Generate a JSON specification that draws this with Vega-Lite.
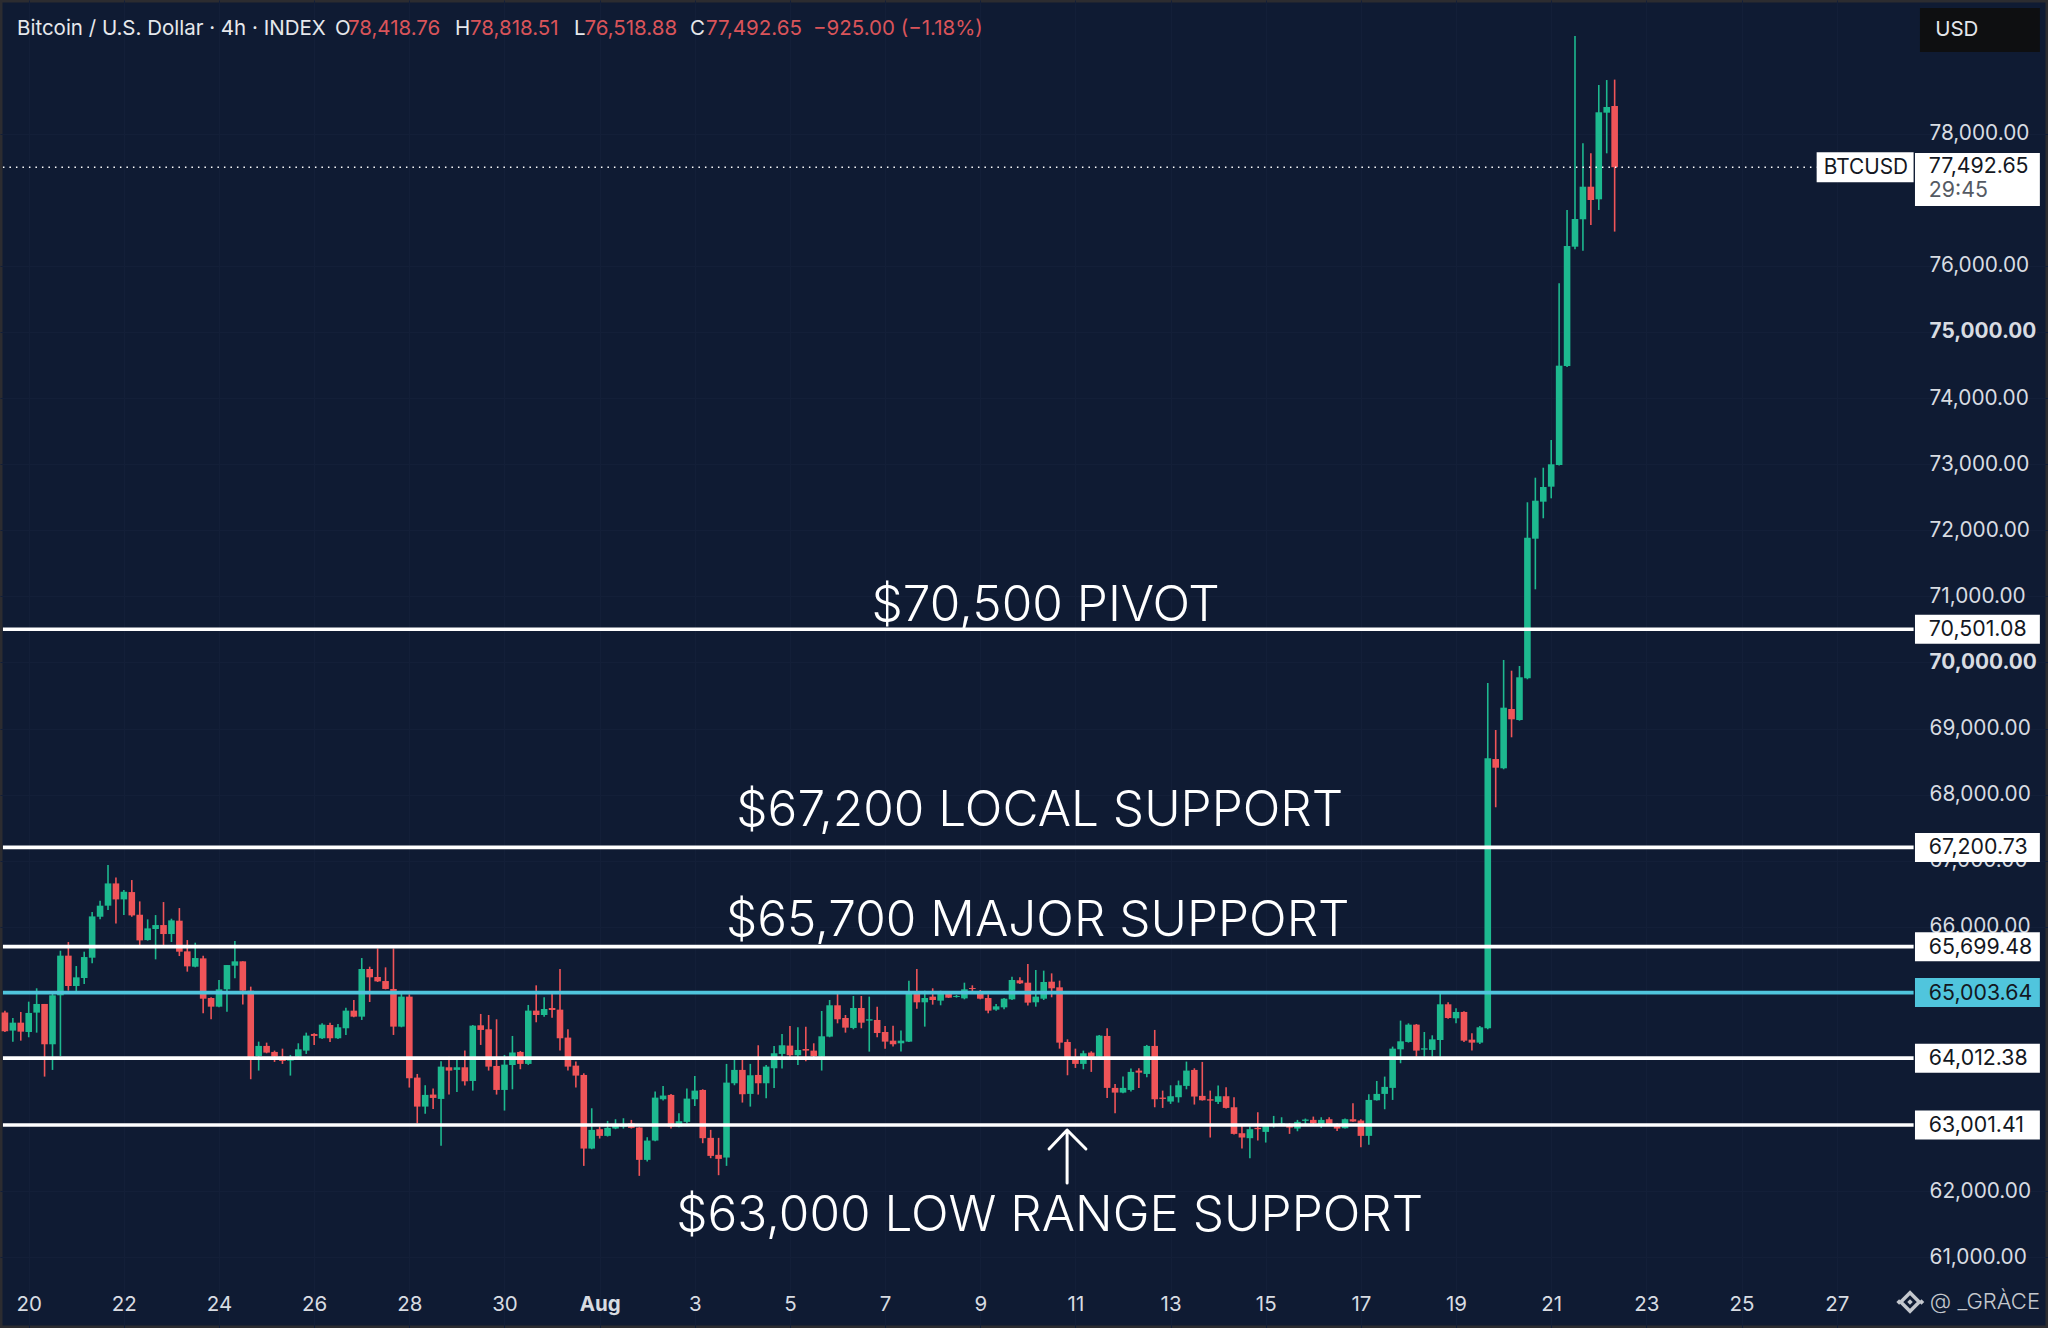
{
  "$schema": "https://vega.github.io/schema/vega-lite/v6.json",
  "width": 2048,
  "height": 1328,
  "padding": 0,
  "autosize": {"type": "none"},
  "background": "#0f1b33",
  "config": {
    "font": "Inter",
    "view": {"stroke": "#2c2c30", "strokeWidth": 5},
    "axis": {"title": null, "domain": false, "ticks": false, "labelOverlap": false, "labelBound": false, "labelFlush": false}
  },
  "datasets": {
    "candles": [
      {"t":"2024-07-19T12:00","o":64701,"h":64731,"l":64408,"c":64418},
      {"t":"2024-07-19T16:00","o":64429,"h":64620,"l":64262,"c":64549},
      {"t":"2024-07-19T20:00","o":64549,"h":64711,"l":64277,"c":64413},
      {"t":"2024-07-20T00:00","o":64408,"h":64867,"l":64328,"c":64696},
      {"t":"2024-07-20T04:00","o":64701,"h":65069,"l":64398,"c":64832},
      {"t":"2024-07-20T08:00","o":64832,"h":64832,"l":63733,"c":64222},
      {"t":"2024-07-20T12:00","o":64222,"h":64983,"l":63834,"c":64963},
      {"t":"2024-07-20T16:00","o":64963,"h":65638,"l":64045,"c":65563},
      {"t":"2024-07-20T20:00","o":65563,"h":65769,"l":65033,"c":65104},
      {"t":"2024-07-21T00:00","o":65104,"h":65406,"l":65018,"c":65235},
      {"t":"2024-07-21T04:00","o":65225,"h":65623,"l":65134,"c":65542},
      {"t":"2024-07-21T08:00","o":65532,"h":66223,"l":65447,"c":66157},
      {"t":"2024-07-21T12:00","o":66152,"h":66394,"l":66112,"c":66319},
      {"t":"2024-07-21T16:00","o":66319,"h":66933,"l":66253,"c":66656},
      {"t":"2024-07-21T20:00","o":66656,"h":66747,"l":66051,"c":66414},
      {"t":"2024-07-22T00:00","o":66414,"h":66555,"l":66177,"c":66530},
      {"t":"2024-07-22T04:00","o":66525,"h":66707,"l":66152,"c":66172},
      {"t":"2024-07-22T08:00","o":66182,"h":66384,"l":65709,"c":65794},
      {"t":"2024-07-22T12:00","o":65799,"h":66112,"l":65789,"c":65976},
      {"t":"2024-07-22T16:00","o":65966,"h":66177,"l":65507,"c":66026},
      {"t":"2024-07-22T20:00","o":66026,"h":66374,"l":65709,"c":65890},
      {"t":"2024-07-23T00:00","o":65890,"h":66122,"l":65769,"c":66097},
      {"t":"2024-07-23T04:00","o":66092,"h":66283,"l":65557,"c":65623},
      {"t":"2024-07-23T08:00","o":65628,"h":65799,"l":65321,"c":65401},
      {"t":"2024-07-23T12:00","o":65396,"h":65759,"l":65386,"c":65527},
      {"t":"2024-07-23T16:00","o":65522,"h":65563,"l":64691,"c":64912},
      {"t":"2024-07-23T20:00","o":64922,"h":64933,"l":64600,"c":64791},
      {"t":"2024-07-24T00:00","o":64791,"h":65195,"l":64781,"c":65053},
      {"t":"2024-07-24T04:00","o":65053,"h":65421,"l":64716,"c":65421},
      {"t":"2024-07-24T08:00","o":65411,"h":65784,"l":65220,"c":65477},
      {"t":"2024-07-24T12:00","o":65477,"h":65477,"l":64822,"c":65033},
      {"t":"2024-07-24T16:00","o":65033,"h":65094,"l":63693,"c":64000},
      {"t":"2024-07-24T20:00","o":64045,"h":64262,"l":63824,"c":64197},
      {"t":"2024-07-25T00:00","o":64197,"h":64247,"l":64086,"c":64096},
      {"t":"2024-07-25T04:00","o":64106,"h":64126,"l":63955,"c":64035},
      {"t":"2024-07-25T08:00","o":64035,"h":64156,"l":63925,"c":63970},
      {"t":"2024-07-25T12:00","o":63975,"h":64061,"l":63748,"c":64025},
      {"t":"2024-07-25T16:00","o":64035,"h":64237,"l":64025,"c":64146},
      {"t":"2024-07-25T20:00","o":64126,"h":64398,"l":64076,"c":64353},
      {"t":"2024-07-26T00:00","o":64378,"h":64388,"l":64212,"c":64348},
      {"t":"2024-07-26T04:00","o":64313,"h":64539,"l":64303,"c":64519},
      {"t":"2024-07-26T08:00","o":64514,"h":64549,"l":64257,"c":64313},
      {"t":"2024-07-26T12:00","o":64313,"h":64529,"l":64303,"c":64479},
      {"t":"2024-07-26T16:00","o":64464,"h":64776,"l":64363,"c":64731},
      {"t":"2024-07-26T20:00","o":64731,"h":64892,"l":64630,"c":64640},
      {"t":"2024-07-27T00:00","o":64640,"h":65527,"l":64590,"c":65361},
      {"t":"2024-07-27T04:00","o":65361,"h":65396,"l":64862,"c":65235},
      {"t":"2024-07-27T08:00","o":65240,"h":65673,"l":65164,"c":65174},
      {"t":"2024-07-27T12:00","o":65179,"h":65386,"l":65053,"c":65059},
      {"t":"2024-07-27T16:00","o":65059,"h":65673,"l":64363,"c":64489},
      {"t":"2024-07-27T20:00","o":64489,"h":65028,"l":64479,"c":64943},
      {"t":"2024-07-28T00:00","o":64943,"h":64978,"l":63567,"c":63708},
      {"t":"2024-07-28T04:00","o":63718,"h":63773,"l":63027,"c":63279},
      {"t":"2024-07-28T08:00","o":63279,"h":63602,"l":63169,"c":63456},
      {"t":"2024-07-28T12:00","o":63461,"h":63552,"l":63244,"c":63410},
      {"t":"2024-07-28T16:00","o":63395,"h":63965,"l":62685,"c":63884},
      {"t":"2024-07-28T20:00","o":63874,"h":64035,"l":63461,"c":63824},
      {"t":"2024-07-29T00:00","o":63834,"h":64010,"l":63501,"c":63874},
      {"t":"2024-07-29T04:00","o":63874,"h":64126,"l":63597,"c":63662},
      {"t":"2024-07-29T08:00","o":63667,"h":64514,"l":63521,"c":64504},
      {"t":"2024-07-29T12:00","o":64509,"h":64681,"l":64212,"c":64439},
      {"t":"2024-07-29T16:00","o":64449,"h":64665,"l":63824,"c":63884},
      {"t":"2024-07-29T20:00","o":63894,"h":64600,"l":63461,"c":63531},
      {"t":"2024-07-30T00:00","o":63531,"h":64061,"l":63219,"c":63914},
      {"t":"2024-07-30T04:00","o":63909,"h":64348,"l":63541,"c":64096},
      {"t":"2024-07-30T08:00","o":64106,"h":64121,"l":63844,"c":63925},
      {"t":"2024-07-30T12:00","o":63925,"h":64817,"l":63909,"c":64731},
      {"t":"2024-07-30T16:00","o":64731,"h":65114,"l":64555,"c":64665},
      {"t":"2024-07-30T20:00","o":64665,"h":64933,"l":64640,"c":64756},
      {"t":"2024-07-31T00:00","o":64771,"h":65023,"l":64625,"c":64741},
      {"t":"2024-07-31T04:00","o":64746,"h":65361,"l":64126,"c":64313},
      {"t":"2024-07-31T08:00","o":64323,"h":64449,"l":63824,"c":63884},
      {"t":"2024-07-31T12:00","o":63899,"h":63960,"l":63567,"c":63748},
      {"t":"2024-07-31T16:00","o":63758,"h":63783,"l":62382,"c":62644},
      {"t":"2024-07-31T20:00","o":62644,"h":63254,"l":62634,"c":62927},
      {"t":"2024-08-01T00:00","o":62937,"h":62977,"l":62796,"c":62836},
      {"t":"2024-08-01T04:00","o":62836,"h":63063,"l":62826,"c":62957},
      {"t":"2024-08-01T08:00","o":62947,"h":63088,"l":62937,"c":62997},
      {"t":"2024-08-01T12:00","o":62977,"h":63103,"l":62947,"c":63012},
      {"t":"2024-08-01T16:00","o":63027,"h":63078,"l":62947,"c":62957},
      {"t":"2024-08-01T20:00","o":62962,"h":62967,"l":62231,"c":62473},
      {"t":"2024-08-02T00:00","o":62473,"h":62816,"l":62448,"c":62765},
      {"t":"2024-08-02T04:00","o":62765,"h":63506,"l":62755,"c":63415},
      {"t":"2024-08-02T08:00","o":63390,"h":63592,"l":63370,"c":63446},
      {"t":"2024-08-02T12:00","o":63456,"h":63471,"l":62947,"c":62977},
      {"t":"2024-08-02T16:00","o":62977,"h":63179,"l":62967,"c":63058},
      {"t":"2024-08-02T20:00","o":63048,"h":63552,"l":63027,"c":63400},
      {"t":"2024-08-03T00:00","o":63390,"h":63743,"l":63289,"c":63521},
      {"t":"2024-08-03T04:00","o":63531,"h":63541,"l":62725,"c":62801},
      {"t":"2024-08-03T08:00","o":62806,"h":62927,"l":62498,"c":62533},
      {"t":"2024-08-03T12:00","o":62549,"h":62806,"l":62241,"c":62488},
      {"t":"2024-08-03T16:00","o":62508,"h":63925,"l":62382,"c":63642},
      {"t":"2024-08-03T20:00","o":63632,"h":63985,"l":63602,"c":63834},
      {"t":"2024-08-04T00:00","o":63834,"h":63985,"l":63340,"c":63466},
      {"t":"2024-08-04T04:00","o":63471,"h":63925,"l":63279,"c":63753},
      {"t":"2024-08-04T08:00","o":63758,"h":64207,"l":63461,"c":63632},
      {"t":"2024-08-04T12:00","o":63632,"h":63909,"l":63405,"c":63884},
      {"t":"2024-08-04T16:00","o":63859,"h":64197,"l":63562,"c":64086},
      {"t":"2024-08-04T20:00","o":64076,"h":64378,"l":63854,"c":64207},
      {"t":"2024-08-05T00:00","o":64202,"h":64499,"l":64005,"c":64056},
      {"t":"2024-08-05T04:00","o":64056,"h":64479,"l":63909,"c":64136},
      {"t":"2024-08-05T08:00","o":64151,"h":64489,"l":63965,"c":64126},
      {"t":"2024-08-05T12:00","o":64126,"h":64237,"l":63985,"c":64045},
      {"t":"2024-08-05T16:00","o":64035,"h":64726,"l":63824,"c":64343},
      {"t":"2024-08-05T20:00","o":64338,"h":64892,"l":64328,"c":64812},
      {"t":"2024-08-06T00:00","o":64812,"h":64993,"l":64539,"c":64600},
      {"t":"2024-08-06T04:00","o":64620,"h":64665,"l":64398,"c":64474},
      {"t":"2024-08-06T08:00","o":64469,"h":64953,"l":64449,"c":64771},
      {"t":"2024-08-06T12:00","o":64771,"h":64953,"l":64464,"c":64549},
      {"t":"2024-08-06T16:00","o":64580,"h":64943,"l":64111,"c":64600},
      {"t":"2024-08-06T20:00","o":64590,"h":64791,"l":64328,"c":64393},
      {"t":"2024-08-07T00:00","o":64408,"h":64499,"l":64156,"c":64262},
      {"t":"2024-08-07T04:00","o":64277,"h":64504,"l":64187,"c":64222},
      {"t":"2024-08-07T08:00","o":64237,"h":64429,"l":64111,"c":64277},
      {"t":"2024-08-07T12:00","o":64262,"h":65185,"l":64257,"c":64993},
      {"t":"2024-08-07T16:00","o":64983,"h":65361,"l":64761,"c":64857},
      {"t":"2024-08-07T20:00","o":64857,"h":65033,"l":64489,"c":64922},
      {"t":"2024-08-08T00:00","o":64943,"h":65069,"l":64822,"c":64892},
      {"t":"2024-08-08T04:00","o":64882,"h":65033,"l":64812,"c":65013},
      {"t":"2024-08-08T08:00","o":64993,"h":65023,"l":64922,"c":64927},
      {"t":"2024-08-08T12:00","o":64938,"h":64968,"l":64927,"c":64953},
      {"t":"2024-08-08T16:00","o":64917,"h":65154,"l":64902,"c":65053},
      {"t":"2024-08-08T20:00","o":65074,"h":65114,"l":65023,"c":65059},
      {"t":"2024-08-09T00:00","o":65013,"h":65043,"l":64902,"c":64912},
      {"t":"2024-08-09T04:00","o":64922,"h":64978,"l":64691,"c":64731},
      {"t":"2024-08-09T08:00","o":64746,"h":64832,"l":64731,"c":64796},
      {"t":"2024-08-09T12:00","o":64781,"h":64922,"l":64751,"c":64912},
      {"t":"2024-08-09T16:00","o":64902,"h":65245,"l":64892,"c":65195},
      {"t":"2024-08-09T20:00","o":65190,"h":65235,"l":65134,"c":65144},
      {"t":"2024-08-10T00:00","o":65154,"h":65437,"l":64807,"c":64852},
      {"t":"2024-08-10T04:00","o":64857,"h":65346,"l":64791,"c":64943},
      {"t":"2024-08-10T08:00","o":64912,"h":65336,"l":64892,"c":65164},
      {"t":"2024-08-10T12:00","o":65169,"h":65295,"l":64933,"c":65069},
      {"t":"2024-08-10T16:00","o":65084,"h":65185,"l":64156,"c":64247},
      {"t":"2024-08-10T20:00","o":64257,"h":64297,"l":63753,"c":63985},
      {"t":"2024-08-11T00:00","o":63995,"h":64156,"l":63864,"c":63925},
      {"t":"2024-08-11T04:00","o":63925,"h":64126,"l":63844,"c":64086},
      {"t":"2024-08-11T08:00","o":64096,"h":64116,"l":63804,"c":64035},
      {"t":"2024-08-11T12:00","o":64035,"h":64363,"l":64025,"c":64353},
      {"t":"2024-08-11T16:00","o":64348,"h":64464,"l":63410,"c":63562},
      {"t":"2024-08-11T20:00","o":63562,"h":63622,"l":63179,"c":63491},
      {"t":"2024-08-12T00:00","o":63491,"h":63733,"l":63481,"c":63562},
      {"t":"2024-08-12T04:00","o":63531,"h":63854,"l":63506,"c":63804},
      {"t":"2024-08-12T08:00","o":63824,"h":63859,"l":63562,"c":63793},
      {"t":"2024-08-12T12:00","o":63773,"h":64212,"l":63723,"c":64197},
      {"t":"2024-08-12T16:00","o":64197,"h":64439,"l":63269,"c":63390},
      {"t":"2024-08-12T20:00","o":63415,"h":63521,"l":63259,"c":63395},
      {"t":"2024-08-13T00:00","o":63355,"h":63602,"l":63320,"c":63436},
      {"t":"2024-08-13T04:00","o":63421,"h":63673,"l":63340,"c":63602},
      {"t":"2024-08-13T08:00","o":63592,"h":63960,"l":63541,"c":63824},
      {"t":"2024-08-13T12:00","o":63834,"h":63859,"l":63310,"c":63431},
      {"t":"2024-08-13T16:00","o":63441,"h":63955,"l":63370,"c":63375},
      {"t":"2024-08-13T20:00","o":63390,"h":63521,"l":62811,"c":63370},
      {"t":"2024-08-14T00:00","o":63350,"h":63597,"l":63320,"c":63436},
      {"t":"2024-08-14T04:00","o":63436,"h":63572,"l":63249,"c":63259},
      {"t":"2024-08-14T08:00","o":63269,"h":63421,"l":62856,"c":62866},
      {"t":"2024-08-14T12:00","o":62876,"h":63007,"l":62644,"c":62811},
      {"t":"2024-08-14T16:00","o":62801,"h":62977,"l":62498,"c":62937},
      {"t":"2024-08-14T20:00","o":62957,"h":63194,"l":62765,"c":62937},
      {"t":"2024-08-15T00:00","o":62896,"h":63002,"l":62735,"c":62987},
      {"t":"2024-08-15T04:00","o":62992,"h":63138,"l":62962,"c":63012},
      {"t":"2024-08-15T08:00","o":62997,"h":63118,"l":62987,"c":63027},
      {"t":"2024-08-15T12:00","o":63002,"h":63027,"l":62866,"c":62962},
      {"t":"2024-08-15T16:00","o":62947,"h":63078,"l":62906,"c":63048},
      {"t":"2024-08-15T20:00","o":63063,"h":63098,"l":62987,"c":63083},
      {"t":"2024-08-16T00:00","o":63078,"h":63128,"l":63012,"c":63027},
      {"t":"2024-08-16T04:00","o":62987,"h":63118,"l":62957,"c":63078},
      {"t":"2024-08-16T08:00","o":63088,"h":63118,"l":63007,"c":63017},
      {"t":"2024-08-16T12:00","o":63002,"h":63027,"l":62911,"c":62947},
      {"t":"2024-08-16T16:00","o":62952,"h":63098,"l":62947,"c":63088},
      {"t":"2024-08-16T20:00","o":63088,"h":63330,"l":63048,"c":63053},
      {"t":"2024-08-17T00:00","o":63068,"h":63088,"l":62665,"c":62836},
      {"t":"2024-08-17T04:00","o":62836,"h":63466,"l":62700,"c":63380},
      {"t":"2024-08-17T08:00","o":63375,"h":63667,"l":63370,"c":63471},
      {"t":"2024-08-17T12:00","o":63471,"h":63733,"l":63239,"c":63577},
      {"t":"2024-08-17T16:00","o":63562,"h":64187,"l":63380,"c":64156},
      {"t":"2024-08-17T20:00","o":64146,"h":64580,"l":63935,"c":64267},
      {"t":"2024-08-18T00:00","o":64257,"h":64539,"l":64247,"c":64519},
      {"t":"2024-08-18T04:00","o":64519,"h":64529,"l":64035,"c":64126},
      {"t":"2024-08-18T08:00","o":64141,"h":64408,"l":64035,"c":64161},
      {"t":"2024-08-18T12:00","o":64136,"h":64358,"l":64035,"c":64297},
      {"t":"2024-08-18T16:00","o":64287,"h":64983,"l":64035,"c":64827},
      {"t":"2024-08-18T20:00","o":64827,"h":64857,"l":64610,"c":64620},
      {"t":"2024-08-19T00:00","o":64615,"h":64766,"l":64539,"c":64711},
      {"t":"2024-08-19T04:00","o":64711,"h":64721,"l":64257,"c":64277},
      {"t":"2024-08-19T08:00","o":64292,"h":64388,"l":64126,"c":64247},
      {"t":"2024-08-19T12:00","o":64247,"h":64499,"l":64227,"c":64479},
      {"t":"2024-08-19T16:00","o":64464,"h":69688,"l":64449,"c":68549},
      {"t":"2024-08-19T20:00","o":68538,"h":68977,"l":67808,"c":68407},
      {"t":"2024-08-20T00:00","o":68398,"h":70037,"l":68383,"c":69315},
      {"t":"2024-08-20T04:00","o":69295,"h":69875,"l":68867,"c":69139},
      {"t":"2024-08-20T08:00","o":69129,"h":69946,"l":69118,"c":69775},
      {"t":"2024-08-20T12:00","o":69760,"h":72423,"l":69745,"c":71887},
      {"t":"2024-08-20T16:00","o":71872,"h":72795,"l":71106,"c":72447},
      {"t":"2024-08-20T20:00","o":72432,"h":72946,"l":72181,"c":72654},
      {"t":"2024-08-21T00:00","o":72659,"h":73365,"l":72483,"c":72998},
      {"t":"2024-08-21T04:00","o":72987,"h":75736,"l":72980,"c":74490},
      {"t":"2024-08-21T08:00","o":74485,"h":76846,"l":74470,"c":76301},
      {"t":"2024-08-21T12:00","o":76290,"h":79478,"l":76251,"c":76709},
      {"t":"2024-08-21T16:00","o":76705,"h":77855,"l":76230,"c":77198},
      {"t":"2024-08-21T20:00","o":77198,"h":77703,"l":76619,"c":76997},
      {"t":"2024-08-22T00:00","o":77007,"h":78737,"l":76846,"c":78324},
      {"t":"2024-08-22T04:00","o":78318,"h":78812,"l":77703,"c":78404},
      {"t":"2024-08-22T08:00","o":78418.76,"h":78818.51,"l":76518.88,"c":77492.65}
    ],
    "levels": [
      {"price":70501.08,"label":"70,501.08","kind":"white","t":"2024-07-19T11:00","t2":"2024-08-28T14:48","tagFrom":"2024-08-28T15:30","tagTo":"2024-08-31T06:30","labelAt":"2024-08-28T22:30"},
      {"price":67200.73,"label":"67,200.73","kind":"white","t":"2024-07-19T11:00","t2":"2024-08-28T14:48","tagFrom":"2024-08-28T15:30","tagTo":"2024-08-31T06:30","labelAt":"2024-08-28T22:30"},
      {"price":65699.48,"label":"65,699.48","kind":"white","t":"2024-07-19T11:00","t2":"2024-08-28T14:48","tagFrom":"2024-08-28T15:30","tagTo":"2024-08-31T06:30","labelAt":"2024-08-28T22:30"},
      {"price":65003.64,"label":"65,003.64","kind":"cyan","t":"2024-07-19T11:00","t2":"2024-08-28T14:48","tagFrom":"2024-08-28T15:30","tagTo":"2024-08-31T06:30","labelAt":"2024-08-28T22:30"},
      {"price":64012.38,"label":"64,012.38","kind":"white","t":"2024-07-19T11:00","t2":"2024-08-28T14:48","tagFrom":"2024-08-28T15:30","tagTo":"2024-08-31T06:30","labelAt":"2024-08-28T22:30"},
      {"price":63001.41,"label":"63,001.41","kind":"white","t":"2024-07-19T11:00","t2":"2024-08-28T14:48","tagFrom":"2024-08-28T15:30","tagTo":"2024-08-31T06:30","labelAt":"2024-08-28T22:30"}
    ],
    "lastPrice": [
      {"price":77492.65,"t":"2024-07-19T11:00","t2":"2024-08-26T13:54","tagFrom":"2024-08-26T13:54","tagTo":"2024-08-28T14:48","labelAt":"2024-08-26T17:30","label":"BTCUSD"}
    ],
    "lastBox": [
      {"price":77307,"tagFrom":"2024-08-28T15:30","tagTo":"2024-08-31T06:30"}
    ],
    "lastTag": [
      {"price":77492.65,"label":"77,492.65","kind":"value","t":"2024-08-28T22:30"},
      {"price":77133,"label":"29:45","kind":"timer","t":"2024-08-28T22:30"}
    ],
    "currency": [
      {"price":79569,"tagFrom":"2024-08-28T18:00","tagTo":"2024-08-31T06:30","t":"2024-08-29T01:42","label":"USD"}
    ],
    "callouts": [
      {"t":"2024-08-10T09:00","price":70850,"label":"$70,500 PIVOT"},
      {"t":"2024-08-10T06:00","price":67755,"label":"$67,200 LOCAL SUPPORT"},
      {"t":"2024-08-10T05:00","price":66085,"label":"$65,700 MAJOR SUPPORT"},
      {"t":"2024-08-10T11:00","price":61625,"label":"$63,000 LOW RANGE SUPPORT"}
    ],
    "arrow": [
      {"i":1,"t":"2024-08-10T19:48","price":62123},
      {"i":2,"t":"2024-08-10T19:48","price":62925},
      {"i":3,"t":"2024-08-10T10:42","price":62637},
      {"i":4,"t":"2024-08-10T19:48","price":62925},
      {"i":5,"t":"2024-08-11T05:18","price":62637}
    ],
    "header": [
      {"t":"2024-07-19T18:06","price":79584,"label":"Bitcoin / U.S. Dollar · 4h · INDEX","kind":"name"},
      {"t":"2024-07-26T10:30","price":79584,"label":"O","kind":"name"},
      {"t":"2024-07-26T17:00","price":79584,"label":"78,418.76","kind":"down"},
      {"t":"2024-07-28T23:00","price":79584,"label":"H","kind":"name"},
      {"t":"2024-07-29T06:36","price":79584,"label":"78,818.51","kind":"down"},
      {"t":"2024-07-31T11:00","price":79584,"label":"L","kind":"name"},
      {"t":"2024-07-31T16:18","price":79584,"label":"76,518.88","kind":"down"},
      {"t":"2024-08-02T21:36","price":79584,"label":"C","kind":"name"},
      {"t":"2024-08-03T05:36","price":79584,"label":"77,492.65","kind":"down"},
      {"t":"2024-08-05T11:36","price":79584,"label":"−925.00 (−1.18%)","kind":"down"}
    ],
    "logo": [
      {"t":"2024-08-28T13:00","price":60322},
      {"t":"2024-08-28T07:30","price":60322},
      {"t":"2024-08-28T18:48","price":60322}
    ]
  },
  "encoding": {
    "x": {
      "field": "t",
      "type": "temporal",
      "scale": {"domain": ["2024-07-19T09:31", "2024-08-31T10:36"], "padding": 0},
      "axis": {
        "values": ["2024-07-20T00:00","2024-07-22T00:00","2024-07-24T00:00","2024-07-26T00:00","2024-07-28T00:00","2024-07-30T00:00","2024-08-01T00:00","2024-08-03T00:00","2024-08-05T00:00","2024-08-07T00:00","2024-08-09T00:00","2024-08-11T00:00","2024-08-13T00:00","2024-08-15T00:00","2024-08-17T00:00","2024-08-19T00:00","2024-08-21T00:00","2024-08-23T00:00","2024-08-25T00:00","2024-08-27T00:00"],
        "labelExpr": "timeFormat(datum.value, '%m-%d') == '08-01' ? 'Aug' : timeFormat(datum.value, '%-d')",
        "labelFontWeight": {"condition": {"test": "timeFormat(datum.value, '%m-%d') == '08-01'", "value": "bold"}, "value": "normal"},
        "labelFontSize": 20.5,
        "labelColor": "#d8dce2",
        "labelAngle": 0,
        "labelPadding": 0,
        "offset": -34,
        "grid": true,
        "gridColor": "#131f38",
        "gridWidth": 1
      }
    },
    "y": {
      "field": "price",
      "type": "quantitative",
      "scale": {"domain": [59929, 80023], "nice": false, "zero": false, "padding": 0},
      "axis": {
        "orient": "right",
        "values": [61000,62000,66000,67000,68000,69000,70000,71000,72000,73000,74000,75000,76000,78000],
        "format": ",.2f",
        "labelFontWeight": {"condition": {"test": "datum.value == 70000 || datum.value == 75000", "value": "bold"}, "value": "normal"},
        "labelFontSize": 20.8,
        "labelColor": "#d8dce2",
        "labelPadding": 0,
        "offset": -119,
        "grid": true,
        "gridColor": "#131f38",
        "gridWidth": 1
      }
    }
  },
  "layer": [
    {
      "data": {"name": "candles"},
      "mark": {"type": "rule", "strokeWidth": 1.6},
      "encoding": {
        "y": {"field": "l", "type": "quantitative"},
        "y2": {"field": "h"},
        "color": {"condition": {"test": "datum.c >= datum.o", "value": "#1db98f"}, "value": "#ef5458"}
      }
    },
    {
      "data": {"name": "candles"},
      "mark": {"type": "bar", "width": 6.6},
      "encoding": {
        "y": {"field": "o", "type": "quantitative"},
        "y2": {"field": "c"},
        "color": {"condition": {"test": "datum.c >= datum.o", "value": "#1db98f"}, "value": "#ef5458"}
      }
    },
    {
      "data": {"name": "levels"},
      "mark": {"type": "rule", "strokeWidth": 3.6},
      "encoding": {
        "x2": {"field": "t2"},
        "color": {"field": "kind", "type": "nominal", "legend": null, "scale": {"domain": ["white", "cyan", "value", "timer", "name", "down"], "range": ["#ffffff", "#50c5dd", "#131722", "#555a63", "#e6e8ec", "#d9545a"]}}
      }
    },
    {
      "data": {"name": "lastPrice"},
      "mark": {"type": "rule", "strokeWidth": 1.5, "strokeDash": [1.5, 5], "color": "#ffffff"},
      "encoding": {"x2": {"field": "t2"}}
    },
    {
      "data": {"name": "levels"},
      "mark": {"type": "rule", "strokeWidth": 29},
      "encoding": {
        "x": {"field": "tagFrom", "type": "temporal"},
        "x2": {"field": "tagTo"},
        "color": {"field": "kind", "type": "nominal", "legend": null}
      }
    },
    {
      "data": {"name": "levels"},
      "mark": {"type": "text", "align": "left", "baseline": "middle", "fontSize": 21.3, "dy": 1, "color": "#131722"},
      "encoding": {
        "x": {"field": "labelAt", "type": "temporal"},
        "text": {"field": "label"}
      }
    },
    {
      "data": {"name": "lastPrice"},
      "mark": {"type": "rule", "strokeWidth": 30, "color": "#ffffff"},
      "encoding": {
        "x": {"field": "tagFrom", "type": "temporal"},
        "x2": {"field": "tagTo"}
      }
    },
    {
      "data": {"name": "lastPrice"},
      "mark": {"type": "text", "align": "left", "baseline": "middle", "fontSize": 20.8, "dy": 1, "color": "#131722"},
      "encoding": {
        "x": {"field": "labelAt", "type": "temporal"},
        "text": {"field": "label"}
      }
    },
    {
      "data": {"name": "lastBox"},
      "mark": {"type": "rule", "strokeWidth": 53, "color": "#ffffff"},
      "encoding": {
        "x": {"field": "tagFrom", "type": "temporal"},
        "x2": {"field": "tagTo"}
      }
    },
    {
      "data": {"name": "lastTag"},
      "mark": {"type": "text", "align": "left", "baseline": "middle", "fontSize": 21.3},
      "encoding": {
        "text": {"field": "label"},
        "color": {"field": "kind", "type": "nominal", "legend": null}
      }
    },
    {
      "data": {"name": "currency"},
      "mark": {"type": "rule", "strokeWidth": 44, "color": "#0e0f11"},
      "encoding": {
        "x": {"field": "tagFrom", "type": "temporal"},
        "x2": {"field": "tagTo"}
      }
    },
    {
      "data": {"name": "currency"},
      "mark": {"type": "text", "align": "left", "baseline": "middle", "fontSize": 20.5, "color": "#e4e6ea"},
      "encoding": {"text": {"field": "label"}}
    },
    {
      "data": {"name": "header"},
      "mark": {"type": "text", "align": "left", "baseline": "middle", "fontSize": 20.5},
      "encoding": {
        "text": {"field": "label"},
        "color": {"field": "kind", "type": "nominal", "legend": null}
      }
    },
    {
      "data": {"name": "callouts"},
      "mark": {"type": "text", "align": "center", "baseline": "middle", "fontSize": 49.5, "fontWeight": 300, "color": "#ffffff"},
      "encoding": {"text": {"field": "label"}}
    },
    {
      "data": {"name": "arrow"},
      "mark": {"type": "line", "strokeWidth": 3, "color": "#ffffff", "strokeCap": "round", "strokeJoin": "round"},
      "encoding": {"order": {"field": "i"}}
    },
    {
      "data": {"values": [{"t": "2024-08-28T23:00", "price": 60322, "label": "@ _GRÀCE"}]},
      "mark": {"type": "text", "align": "left", "baseline": "middle", "fontSize": 22, "fontWeight": 300, "color": "#c4c8ce"},
      "encoding": {"text": {"field": "label"}}
    },
    {
      "data": {"values": [{"t": "2024-08-28T13:00", "price": 60322}]},
      "mark": {"type": "point", "shape": "diamond", "size": 340, "filled": false, "strokeWidth": 3.5, "color": "#c4c8ce", "opacity": 1}
    },
    {
      "data": {"name": "logo"},
      "mark": {"type": "point", "shape": "diamond", "size": 30, "filled": true, "color": "#c4c8ce", "opacity": 1}
    }
  ]
}
